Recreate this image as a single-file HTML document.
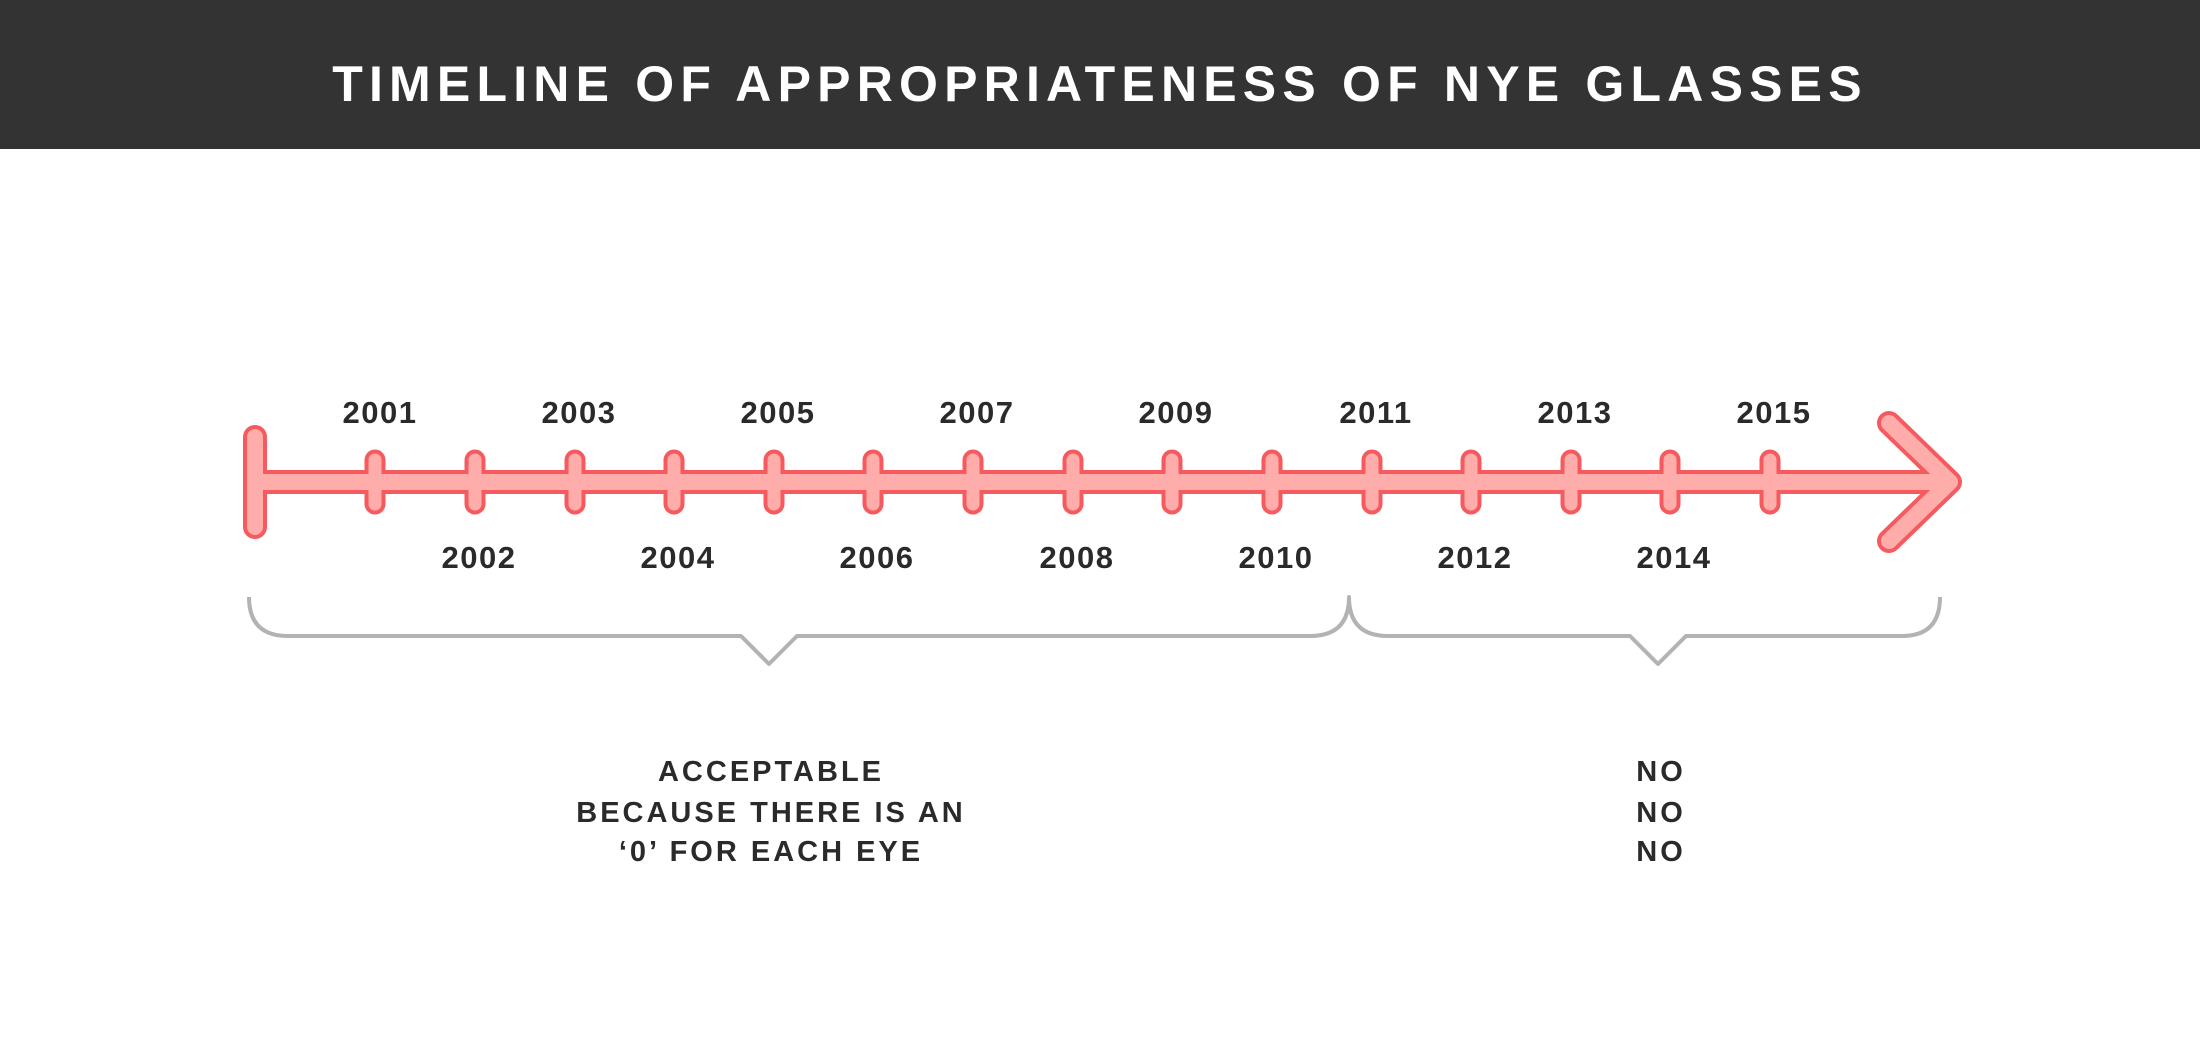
<!DOCTYPE html>
<html><head><meta charset="utf-8"><style>
html,body{margin:0;padding:0;background:#fff}
body{width:2200px;height:1046px;position:relative;overflow:hidden;font-family:"Liberation Sans",sans-serif}
.hdr{position:absolute;left:0;top:0;width:2200px;height:149px;background:#333333}
.hdr div{position:absolute;left:0;right:0;top:54px;text-align:center;color:#fff;font-weight:bold;font-size:50px;letter-spacing:6.2px;line-height:60px}
svg{position:absolute;left:0;top:0}
</style></head><body>
<div class="hdr"><div>TIMELINE OF APPROPRIATENESS OF NYE GLASSES</div></div>
<svg width="2200" height="1046" viewBox="0 0 2200 1046">
<g stroke-linecap="round" stroke-linejoin="round" fill="none">
<g stroke="#f65a5f">
<path d="M255 437 V527 M255 482 H1940 M1889 423 L1950 482 L1889 541" stroke-width="24"/>
<path d="M375 460V504M475 460V504M575 460V504M674 460V504M774 460V504M873 460V504M973 460V504M1073 460V504M1172 460V504M1272 460V504M1372 460V504M1471 460V504M1571 460V504M1670 460V504M1770 460V504" stroke-width="21"/>
</g>
<g stroke="#ffadab">
<path d="M255 437 V527 M255 482 H1940 M1889 423 L1950 482 L1889 541" stroke-width="16"/>
<path d="M375 460V504M475 460V504M575 460V504M674 460V504M774 460V504M873 460V504M973 460V504M1073 460V504M1172 460V504M1272 460V504M1372 460V504M1471 460V504M1571 460V504M1670 460V504M1770 460V504" stroke-width="13"/>
</g>
<path d="M249 597 Q249 636 288 636 H741 L769 664 L797 636 H1310 Q1349 636 1349 597 Q1349 636 1388 636 H1630 L1658 664 L1686 636 H1902 Q1940 636 1940 597" stroke="#b3b3b3" stroke-width="4" stroke-linecap="butt"/>
</g>
<g font-family="Liberation Sans, sans-serif" font-size="31" font-weight="bold" fill="#2a2a2a" text-anchor="middle" letter-spacing="1.5">
<text x="380" y="423">2001</text><text x="579" y="423">2003</text><text x="778" y="423">2005</text><text x="977" y="423">2007</text><text x="1176" y="423">2009</text><text x="1376" y="423">2011</text><text x="1575" y="423">2013</text><text x="1774" y="423">2015</text>
<text x="479" y="568">2002</text><text x="678" y="568">2004</text><text x="877" y="568">2006</text><text x="1077" y="568">2008</text><text x="1276" y="568">2010</text><text x="1475" y="568">2012</text><text x="1674" y="568">2014</text>
</g>
<g font-family="Liberation Sans, sans-serif" font-size="29" font-weight="bold" fill="#2a2a2a" text-anchor="middle" letter-spacing="3">
<text x="771" y="781">ACCEPTABLE</text><text x="771" y="822">BECAUSE THERE IS AN</text><text x="771" y="861">‘0’ FOR EACH EYE</text>
<text x="1661" y="781">NO</text><text x="1661" y="822">NO</text><text x="1661" y="861">NO</text>
</g>
</svg>
</body></html>
